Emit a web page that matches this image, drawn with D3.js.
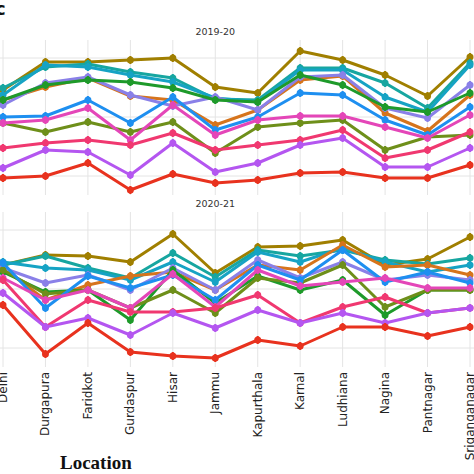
<!DOCTYPE html>
<html><head><meta charset="utf-8">
<script src="https://cdn.jsdelivr.net/npm/d3@7"></script>
<style>body{margin:0;background:#fff}svg{display:block}</style>
</head><body>
<svg width="474" height="474"></svg>
<script>
const locations = ['Delhi','Durgapura','Faridkot','Gurdaspur','Hisar','Jammu','Kapurthala','Karnal','Ludhiana','Nagina','Pantnagar','Sriganganagar'];
const years = ['2019-20', '2020-21'];
const seriesColors = ['#a07f00','#17a6a0','#16a3c4','#d6741c','#8a80e8','#1e9a2a','#6e8f1a','#1e8ff0','#e446b8','#f03870','#b456f0','#e8321e'];

// values per series, one array per year
const values2019 = [
  [105,133,133,135,137,108,102,144,135,120,99,138],
  [107,128,131,123,117,96,95,127,127,112,87,132],
  [100,130,128,120,113,97,93,125,125,98,83,130],
  [95,108,117,99,95,70,85,115,119,82,64,100],
  [90,112,118,100,89,98,85,118,120,87,77,110],
  [95,110,115,113,107,95,93,120,110,88,83,102],
  [72,63,73,63,73,42,68,72,75,45,58,60],
  [78,79,95,72,98,65,78,102,100,75,60,88],
  [72,75,87,55,90,60,75,79,79,68,57,80],
  [47,52,55,50,62,45,50,55,65,37,45,63],
  [27,45,43,20,52,23,32,50,57,28,28,47],
  [17,19,32,5,21,12,15,22,23,17,17,30]
];
const values2020 = [
  [102,112,111,105,133,94,120,121,127,102,108,130],
  [102,111,99,89,114,90,117,111,117,107,103,109],
  [105,99,97,87,105,85,115,105,119,105,95,102],
  [99,67,82,91,95,77,102,97,122,100,102,92],
  [99,84,92,77,99,77,107,89,105,87,92,87],
  [95,75,77,47,97,64,91,77,87,52,77,77],
  [97,73,77,59,77,54,89,84,102,60,77,77],
  [104,59,91,79,92,67,102,87,117,85,95,84],
  [89,67,77,59,93,60,97,81,85,89,79,79],
  [87,40,67,55,55,59,72,44,60,70,54,59],
  [74,40,49,32,54,39,57,44,54,44,54,59],
  [62,13,44,15,11,9,27,21,40,40,31,40]
];
const yTicks = [19, 78, 137];
const errHalf = 4;

const svg = d3.select('svg');
const x = d3.scalePoint().domain(locations).range([3, 470]);

const panels = [
  {title: years[0], data: values2019, top: 40},
  {title: years[1], data: values2020, top: 212}
];
const panelH = 155;

panels.forEach(p => {
  const y = d3.scaleLinear().domain([0, 155]).range([p.top + panelH, p.top]);
  const g = svg.append('g');

  g.selectAll('.vg').data(locations).enter().append('line')
    .attr('x1', d => x(d)).attr('x2', d => x(d))
    .attr('y1', p.top).attr('y2', p.top + panelH)
    .attr('stroke', '#e4e4e4').attr('stroke-width', 1);
  g.selectAll('.hg').data(yTicks).enter().append('line')
    .attr('x1', 0).attr('x2', 474)
    .attr('y1', d => y(d)).attr('y2', d => y(d))
    .attr('stroke', '#e4e4e4').attr('stroke-width', 1);

  svg.append('text')
    .text(p.title)
    .attr('x', x('Jammu')).attr('y', p.top - 5)
    .attr('text-anchor', 'middle')
    .attr('font-family', 'DejaVu Sans').attr('font-size', 9.5).attr('fill', '#333');

  const line = d3.line().x((d, i) => x(locations[i])).y(d => y(d));

  p.data.forEach((vals, s) => {
    const c = seriesColors[s];
    const sg = g.append('g');
    sg.append('path').datum(vals)
      .attr('d', line).attr('fill', 'none')
      .attr('stroke', c).attr('stroke-width', 3).attr('stroke-linejoin', 'round');
    sg.selectAll('line').data(vals).enter().append('line')
      .attr('x1', (d, i) => x(locations[i])).attr('x2', (d, i) => x(locations[i]))
      .attr('y1', d => y(d - errHalf)).attr('y2', d => y(d + errHalf))
      .attr('stroke', c).attr('stroke-width', 2);
    sg.selectAll('circle').data(vals).enter().append('circle')
      .attr('cx', (d, i) => x(locations[i])).attr('cy', d => y(d))
      .attr('r', 3.5).attr('fill', c);
  });
});

svg.append('g').selectAll('text').data(locations).enter().append('text')
  .text(d => d)
  .attr('transform', d => `translate(${x(d) + 4}, 372) rotate(-90)`)
  .attr('text-anchor', 'end')
  .attr('font-family', 'DejaVu Sans').attr('font-size', 12).attr('fill', '#222');

svg.append('text')
  .text('Location')
  .attr('x', 60).attr('y', 469)
  .attr('font-family', 'Liberation Serif').attr('font-weight', 'bold')
  .attr('font-size', 19).attr('fill', '#111');

svg.append('text')
  .text('c')
  .attr('x', -5).attr('y', 15)
  .attr('font-family', 'DejaVu Sans').attr('font-weight', 'bold')
  .attr('font-size', 18).attr('fill', '#111');
</script>
</body></html>
